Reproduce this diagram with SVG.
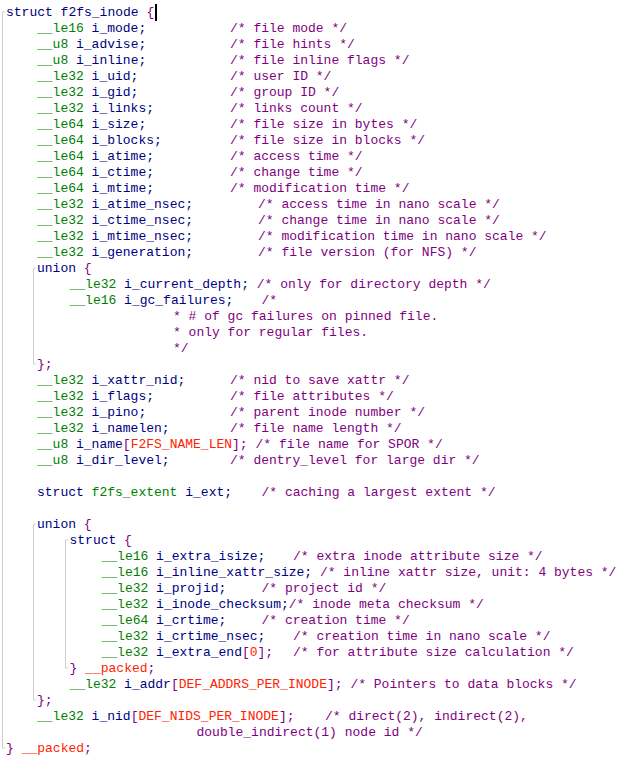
<svg xmlns="http://www.w3.org/2000/svg" width="635" height="766" viewBox="0 0 635 766">
<style>
text{font-family:"Liberation Mono","DejaVu Sans Mono",monospace;font-size:13px;white-space:pre;fill:#000080}
.t{fill:#008000}.i{fill:#000080}.c{fill:#800080}.p{fill:#800080}.r{fill:#ff2200}
.g{stroke:#cfcfcf;stroke-width:1;fill:none}
</style>
<rect width="635" height="766" fill="#ffffff"/>
<g id="guides">
<path class="g" d="M2.5 12V748M2.5 12H5M2.5 748H5"/>
<path class="g" d="M33.5 268V364H36M33.5 268H36"/>
<path class="g" d="M33.5 524V700H36M33.5 524H36"/>
<path class="g" d="M65.5 540V668H68M65.5 540H68"/>
<rect x="155" y="4" width="2" height="17" fill="#000"/>
</g>
<g id="code">
<text x="6" y="16">struct f2fs_inode <tspan class="p">{</tspan></text>
<text x="37" y="32"><tspan class="t">__le16</tspan> i_mode;</text><text x="230" y="32" class="c">/* file mode */</text>
<text x="37" y="48"><tspan class="t">__u8</tspan> i_advise;</text><text x="230" y="48" class="c">/* file hints */</text>
<text x="37" y="64"><tspan class="t">__u8</tspan> i_inline;</text><text x="230" y="64" class="c">/* file inline flags */</text>
<text x="37" y="80"><tspan class="t">__le32</tspan> i_uid;</text><text x="230" y="80" class="c">/* user ID */</text>
<text x="37" y="96"><tspan class="t">__le32</tspan> i_gid;</text><text x="230" y="96" class="c">/* group ID */</text>
<text x="37" y="112"><tspan class="t">__le32</tspan> i_links;</text><text x="230" y="112" class="c">/* links count */</text>
<text x="37" y="128"><tspan class="t">__le64</tspan> i_size;</text><text x="230" y="128" class="c">/* file size in bytes */</text>
<text x="37" y="144"><tspan class="t">__le64</tspan> i_blocks;</text><text x="230" y="144" class="c">/* file size in blocks */</text>
<text x="37" y="160"><tspan class="t">__le64</tspan> i_atime;</text><text x="230" y="160" class="c">/* access time */</text>
<text x="37" y="176"><tspan class="t">__le64</tspan> i_ctime;</text><text x="230" y="176" class="c">/* change time */</text>
<text x="37" y="192"><tspan class="t">__le64</tspan> i_mtime;</text><text x="230" y="192" class="c">/* modification time */</text>
<text x="37" y="208"><tspan class="t">__le32</tspan> i_atime_nsec;</text><text x="258" y="208" class="c">/* access time in nano scale */</text>
<text x="37" y="224"><tspan class="t">__le32</tspan> i_ctime_nsec;</text><text x="258" y="224" class="c">/* change time in nano scale */</text>
<text x="37" y="240"><tspan class="t">__le32</tspan> i_mtime_nsec;</text><text x="258" y="240" class="c">/* modification time in nano scale */</text>
<text x="37" y="256"><tspan class="t">__le32</tspan> i_generation;</text><text x="258" y="256" class="c">/* file version (for NFS) */</text>
<text x="37" y="272">union <tspan class="p">{</tspan></text>
<text x="69.5" y="288"><tspan class="t">__le32</tspan> i_current_depth; <tspan class="c">/* only for directory depth */</tspan></text>
<text x="69.5" y="304"><tspan class="t">__le16</tspan> i_gc_failures;</text><text x="261.5" y="304" class="c">/*</text>
<text x="173" y="320" class="c">* # of gc failures on pinned file.</text>
<text x="173" y="336" class="c">* only for regular files.</text>
<text x="173" y="352" class="c">*/</text>
<text x="37" y="368" class="p">};</text>
<text x="37" y="384"><tspan class="t">__le32</tspan> i_xattr_nid;</text><text x="230" y="384" class="c">/* nid to save xattr */</text>
<text x="37" y="400"><tspan class="t">__le32</tspan> i_flags;</text><text x="230" y="400" class="c">/* file attributes */</text>
<text x="37" y="416"><tspan class="t">__le32</tspan> i_pino;</text><text x="230" y="416" class="c">/* parent inode number */</text>
<text x="37" y="432"><tspan class="t">__le32</tspan> i_namelen;</text><text x="230" y="432" class="c">/* file name length */</text>
<text x="37" y="448"><tspan class="t">__u8</tspan> i_name<tspan class="p">[</tspan><tspan class="r">F2FS_NAME_LEN</tspan><tspan class="p">];</tspan> <tspan class="c">/* file name for SPOR */</tspan></text>
<text x="37" y="464"><tspan class="t">__u8</tspan> i_dir_level;</text><text x="230" y="464" class="c">/* dentry_level for large dir */</text>
<text x="37" y="496">struct <tspan class="t">f2fs_extent</tspan> i_ext;</text><text x="261.5" y="496" class="c">/* caching a largest extent */</text>
<text x="37" y="528">union <tspan class="p">{</tspan></text>
<text x="69.5" y="544">struct <tspan class="p">{</tspan></text>
<text x="101.5" y="560"><tspan class="t">__le16</tspan> i_extra_isize;</text><text x="293" y="560" class="c">/* extra inode attribute size */</text>
<text x="101.5" y="576"><tspan class="t">__le16</tspan> i_inline_xattr_size; <tspan class="c">/* inline xattr size, unit: 4 bytes */</tspan></text>
<text x="101.5" y="592"><tspan class="t">__le32</tspan> i_projid;</text><text x="261.5" y="592" class="c">/* project id */</text>
<text x="101.5" y="608"><tspan class="t">__le32</tspan> i_inode_checksum;<tspan class="c">/* inode meta checksum */</tspan></text>
<text x="101.5" y="624"><tspan class="t">__le64</tspan> i_crtime;</text><text x="261.5" y="624" class="c">/* creation time */</text>
<text x="101.5" y="640"><tspan class="t">__le32</tspan> i_crtime_nsec;</text><text x="293" y="640" class="c">/* creation time in nano scale */</text>
<text x="101.5" y="656"><tspan class="t">__le32</tspan> i_extra_end<tspan class="p">[</tspan><tspan class="r">0</tspan><tspan class="p">];</tspan></text><text x="293" y="656" class="c">/* for attribute size calculation */</text>
<text x="69.5" y="672"><tspan class="p">}</tspan> <tspan class="r">__packed</tspan><tspan class="p">;</tspan></text>
<text x="69.5" y="688"><tspan class="t">__le32</tspan> i_addr<tspan class="p">[</tspan><tspan class="r">DEF_ADDRS_PER_INODE</tspan><tspan class="p">];</tspan> <tspan class="c">/* Pointers to data blocks */</tspan></text>
<text x="37" y="704" class="p">};</text>
<text x="37" y="720"><tspan class="t">__le32</tspan> i_nid<tspan class="p">[</tspan><tspan class="r">DEF_NIDS_PER_INODE</tspan><tspan class="p">];</tspan></text><text x="325" y="720" class="c">/* direct(2), indirect(2),</text>
<text x="196.5" y="736" class="c">double_indirect(1) node id */</text>
<text x="6" y="752"><tspan class="p">}</tspan> <tspan class="r">__packed</tspan><tspan class="p">;</tspan></text>
</g>
</svg>
